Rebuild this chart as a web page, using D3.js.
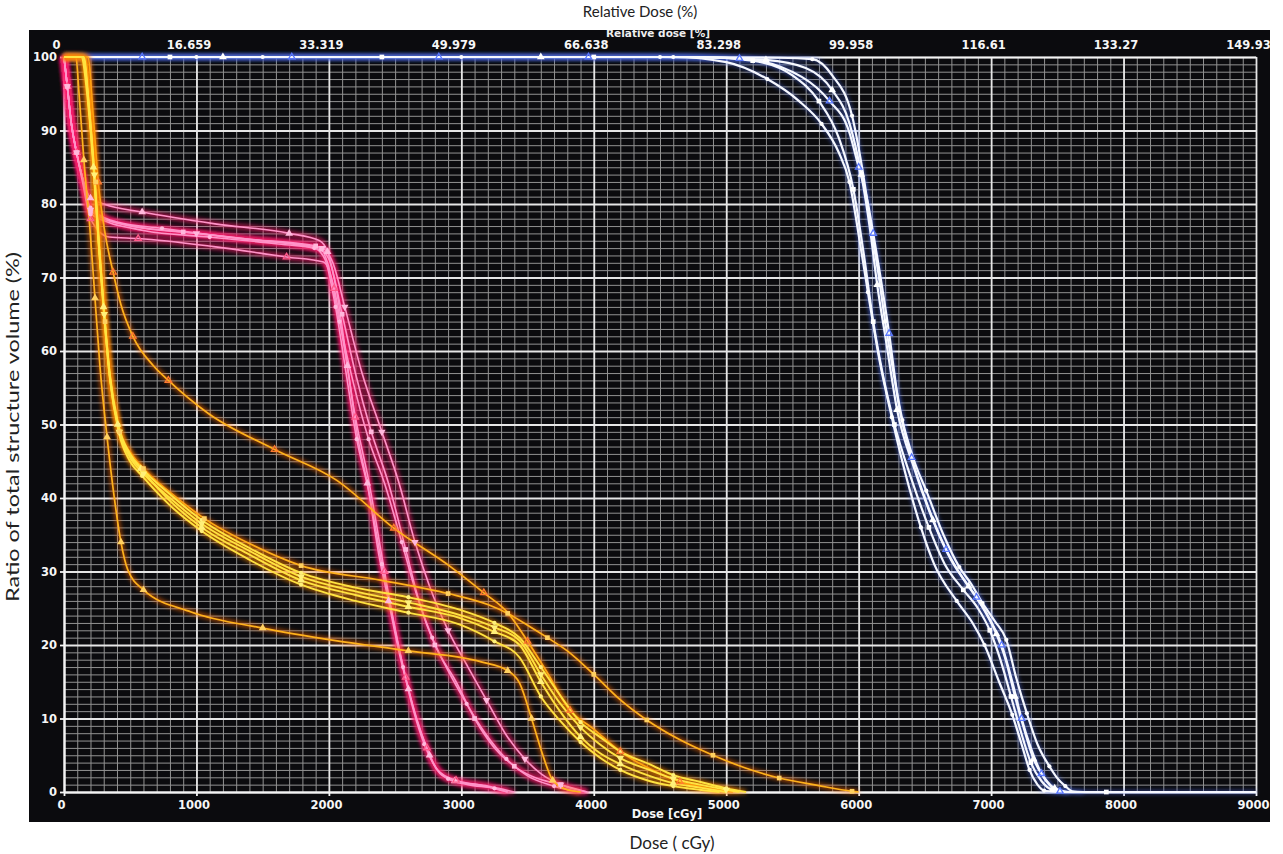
<!DOCTYPE html>
<html>
<head>
<meta charset="utf-8">
<script src="https://cdn.jsdelivr.net/npm/d3@7"></script>
<style>
body { margin: 0; background: #fff; }
svg { display: block; }
</style>
</head>
<body>
<svg id="chart" width="1283" height="854"></svg>
<script>
// tick values / labels
var doseTicks = [0, 1000, 2000, 3000, 4000, 5000, 6000, 7000, 8000, 9000];
var volTicks = [0, 10, 20, 30, 40, 50, 60, 70, 80, 90, 100];
var relDoseLabels = ["0", "16.659", "33.319", "49.979", "66.638", "83.298", "99.958", "116.61", "133.27", "149.93"];

// PTV curves (white) : [dose cGy, volume %]
var ptv1 = [[0,100],[1000,100],[2000,100],[3000,100],[4000,100],[4600,100],[5000,99.3],[5310,97],[5550,94],[5720,90.9],[5850,87],[5930,83],[6010,74.7],[6070,68],[6160,58.5],[6250,51],[6380,41.5],[6470,36],[6570,31],[6740,26],[6860,23],[6950,20],[7060,15],[7160,10.5],[7230,6.5],[7290,3],[7350,1],[7400,0.2],[7500,0]];
var ptv2 = [[0,100],[800,100],[1600,100],[2400,100],[3200,100],[4000,100],[4800,100],[5200,99.5],[5500,97.5],[5700,94],[5850,89],[5960,82],[6040,73],[6110,64],[6180,57],[6270,50],[6400,42.5],[6530,36],[6650,31],[6790,27.5],[6900,25],[6990,22],[7070,18],[7150,13],[7220,8.5],[7300,4],[7380,1.5],[7460,0.3],[7550,0],[7870,0],[8440,0],[9000,0]];
var ptv3 = [[0,100],[590,100],[1155,100],[1720,100],[2265,100],[2830,100],[3395,100],[3960,100],[4530,100],[5100,99.8],[5570,97.3],[5780,94],[5925,90],[6000,85],[6060,81],[6110,76],[6150,71.7],[6230,62.4],[6300,53],[6400,45.5],[6520,39],[6660,33],[6790,29],[6890,26.5],[6990,23.5],[7080,20],[7160,15],[7230,10],[7300,6],[7380,2.5],[7450,0.8],[7520,0.1],[7600,0]];
var ptv4 = [[0,100],[1200,100],[2400,100],[3600,100],[4700,100],[5300,99.6],[5600,98.5],[5800,95.5],[5930,91],[6020,84],[6090,76],[6140,69],[6210,61],[6290,52],[6420,44],[6560,37],[6700,31.5],[6830,28],[6940,25],[7040,21.5],[7110,18],[7180,13],[7250,8.5],[7320,4.5],[7400,2],[7480,0.5],[7580,0]];
var ptv5 = [[0,100],[1500,100],[3000,100],[4500,100],[5400,99.9],[5650,99.7],[5800,97.5],[5950,92],[6045,82.8],[6100,76],[6145,71],[6200,64],[6250,58.4],[6330,50.6],[6420,45],[6510,41],[6640,35],[6760,30.6],[6850,28.3],[6935,25.7],[7030,23.2],[7115,20.7],[7190,15.5],[7270,10.7],[7350,6.5],[7440,3.5],[7495,2],[7560,0.8],[7615,0.1],[7700,0]];

// OAR curves (pink)
var pink1 = [[0,100],[25,96],[55,91],[95,87],[140,83.5],[200,80.8],[300,80],[590,78.9],[1140,77.3],[1700,76],[1930,75],[1990,73.5],[2060,68],[2140,58],[2220,48],[2290,42],[2380,32],[2450,26],[2530,19],[2600,14],[2680,9],[2760,5],[2840,2.5],[2950,1.5],[3150,0.9],[3350,0]];
var pink2 = [[0,100],[25,96],[55,91],[95,87],[140,83.5],[200,79.5],[410,77.5],[740,76.7],[1270,75.4],[1890,74],[1970,72.5],[2050,66],[2130,57],[2210,48],[2300,41],[2400,31],[2480,24],[2560,17],[2640,11],[2720,6.5],[2800,3.5],[2900,1.8],[3050,1],[3250,0.5],[3350,0]];
var pink3 = [[0,100],[25,96],[55,91],[95,87],[140,83],[200,78],[340,75.5],[560,75.3],[1130,74.2],[1680,72.8],[1960,72.1],[2040,68.5],[2120,60],[2200,51],[2300,42.4],[2420,30],[2500,22],[2580,15.6],[2660,10],[2740,6],[2820,3],[2960,1.6],[3200,0.8],[3400,0]];
var pink4 = [[0,100],[25,96],[55,91],[95,87],[140,83.5],[200,79],[450,77.2],[900,76.2],[1400,75.2],[1900,74.3],[2000,72.5],[2100,65],[2200,57],[2320,49],[2450,42],[2580,33],[2680,26],[2800,20],[2960,15],[3100,10],[3250,6],[3400,3.5],[3550,2],[3750,1],[3950,0]];
var pink5 = [[0,100],[25,96],[55,91],[95,87],[140,83.5],[200,79.2],[500,77],[1000,76],[1500,75],[1950,74],[2030,72],[2120,66],[2250,57],[2400,49],[2530,42],[2650,34],[2760,28],[2900,22],[3050,17],[3190,12.5],[3330,8],[3480,4.5],[3600,2.5],[3750,1],[3950,0]];
var pink6 = [[0,100],[25,96],[55,91],[95,87],[140,83.5],[200,78.6],[600,76.4],[1100,75.5],[1600,74.6],[1940,73.8],[1990,72],[2080,64],[2180,56],[2300,48],[2420,42],[2550,34],[2660,27],[2780,21],[2900,16.5],[3040,12],[3180,8],[3340,4.5],[3500,2.2],[3700,0.8],[3900,0]];

// OAR curves (orange / yellow)
var orangeTri = [[0,100],[90,100],[113,95.2],[150,86],[196,76.6],[234,67.2],[272,57.8],[325,48.3],[380,40],[430,34],[480,30.3],[600,27.5],[960,24.5],[1500,22.3],[2050,20.6],[2600,19.2],[3150,17.7],[3350,16.5],[3440,14.8],[3530,10],[3610,5.3],[3690,1.6],[3800,0.3],[3900,0]];
var orangeA = [[0,100],[180,100],[220,92],[258,83],[310,76],[371,70.7],[430,66.3],[520,62],[675,58],[788,56],[1090,51.5],[1590,46.6],[2060,42.4],[2490,35.9],[2930,30.5],[3170,27.1],[3350,24.4],[3500,20.5],[3640,16.5],[3820,11.1],[3990,8.7],[4200,5.5],[4420,3.2],[4650,1.4],[4900,0.4],[5050,0]];
var orangeSq = [[0,100],[160,100],[200,93],[240,83],[275,73],[310,64],[355,55.5],[420,49],[510,46],[600,44],[820,40.5],[1060,37.2],[1400,33.8],[1790,30.8],[2400,28.8],[2900,27],[3200,25.5],[3350,24.3],[3500,22.7],[3650,21],[3800,19.2],[4000,16],[4190,12.7],[4400,9.8],[4640,7.2],[4900,5],[5140,3.3],[5400,1.9],[5690,0.9],[5950,0.1],[6000,0]];
var yellow1 = [[0,100],[140,100],[185,94],[225,85],[262,75],[300,66],[345,57],[410,50],[500,46],[590,44],[800,40.5],[1040,37],[1400,33.2],[1790,29.8],[2200,27.8],[2600,26.5],[2985,24.8],[3250,23],[3440,21],[3600,17],[3740,13.3],[3900,9.5],[4045,7.5],[4200,5.5],[4420,3.8],[4600,2.3],[4800,1.4],[5000,0.5],[5150,0]];
var yellow2 = [[0,100],[150,100],[190,93],[230,84],[266,74],[304,65],[350,56],[418,49],[505,45.3],[600,43.3],[800,40],[1040,36.5],[1400,32.8],[1790,29.3],[2200,27.3],[2600,25.8],[2985,24.1],[3250,22.4],[3440,20.6],[3600,16],[3740,12.2],[3900,8.8],[4045,6.5],[4200,4.6],[4420,3],[4600,1.8],[4800,1],[5000,0.3],[5100,0]];
var yellow3 = [[0,100],[130,100],[180,94],[222,85],[260,75],[298,66],[342,57],[405,50],[490,46],[580,44],[800,39.6],[1040,36],[1400,32.3],[1790,28.8],[2200,26.8],[2600,25.2],[2985,23.7],[3250,21.8],[3440,20],[3600,15],[3740,11.1],[3900,7.5],[4045,5.3],[4200,3.8],[4420,2.2],[4600,1.2],[4800,0.6],[5000,0]];
var yellow4 = [[0,100],[145,100],[188,93],[228,84],[264,74],[302,65],[348,56],[412,49],[498,45],[590,43],[800,39],[1040,35.5],[1400,31.6],[1790,28.2],[2200,26],[2600,24.4],[2985,22.8],[3250,20.5],[3440,18.3],[3600,13],[3740,9.8],[3900,6.8],[4045,4.7],[4200,3],[4420,1.5],[4600,0.8],[4800,0.3],[4950,0]];

var series = [
    { data: ptv1, group: 'ptv', marker: 'dot' },
    { data: ptv2, group: 'ptv', marker: 'sq' },
    { data: ptv4, group: 'ptv', marker: 'tri' },
    { data: ptv5, group: 'ptv', marker: 'dot' },
    { data: ptv3, group: 'ptv', marker: 'A' },
    { data: pink1, group: 'pink', marker: 'tri' },
    { data: pink2, group: 'pink', marker: 'dot' },
    { data: pink3, group: 'pink', marker: 'A' },
    { data: pink4, group: 'pink', marker: 'sq' },
    { data: pink5, group: 'pink', marker: 'down' },
    { data: pink6, group: 'pink', marker: 'dot' },
    { data: yellow1, group: 'yellow', marker: 'dot' },
    { data: yellow2, group: 'yellow', marker: 'down' },
    { data: yellow3, group: 'yellow', marker: 'tri' },
    { data: yellow4, group: 'yellow', marker: 'dot' },
    { data: orangeTri, group: 'orange', marker: 'tri' },
    { data: orangeA, group: 'orange', marker: 'A' },
    { data: orangeSq, group: 'orange', marker: 'sq' }
];

var styles = {
    ptv:    { core: '#f6f8ff', glow: '#4a68e0', w: 2.2, gw: 4, go: 0.5,  mk: '#ffffff', mA: '#5a78ff' },
    pink:   { core: '#ff93c8', glow: '#ff1a6c', w: 1.6, gw: 6, go: 0.6,  mk: '#ffb8dc', mA: '#ff5a8a' },
    yellow: { core: '#ffe340', glow: '#ff8a00', w: 1.9, gw: 5, go: 0.55, mk: '#fff07a', mA: '#ff9a20' },
    orange: { core: '#ffb21c', glow: '#ff6a00', w: 1.7, gw: 5, go: 0.55, mk: '#ffd060', mA: '#ff7a30' }
};

var svg = d3.select('#chart');
var x = d3.scaleLinear().domain([0, 9000]).range([64, 1256]);
var y = d3.scaleLinear().domain([0, 100]).range([792, 57]);
var plotH = y(0) - y(100), plotW = x(9000) - x(0);

var defs = svg.append('defs');
defs.append('filter').attr('id', 'blur').attr('x', '-20%').attr('y', '-20%').attr('width', '140%').attr('height', '140%')
    .append('feGaussianBlur').attr('stdDeviation', 2.2);
defs.append('clipPath').attr('id', 'panelClip')
    .append('rect').attr('x', 29).attr('y', 30).attr('width', 1241).attr('height', 792);

// outer titles
var titleFont = 'Lato, "Open Sans", sans-serif';
svg.append('text').attr('x', 640).attr('y', 17).attr('text-anchor', 'middle')
    .style('font-family', titleFont).style('font-size', '15px').style('fill', '#222')
    .text('Relative Dose (%)');
svg.append('text').attr('transform', 'translate(19,427) rotate(-90)').attr('text-anchor', 'middle')
    .attr('textLength', 350).attr('lengthAdjust', 'spacingAndGlyphs')
    .style('font-family', titleFont).style('font-size', '18px').style('fill', '#222')
    .text('Ratio of total structure volume (%)');
svg.append('text').attr('x', 672).attr('y', 849).attr('text-anchor', 'middle')
    .style('font-family', titleFont).style('font-size', '17px').style('fill', '#222')
    .text('Dose ( cGy)');

// black screen panel
svg.append('rect').attr('x', 29).attr('y', 30).attr('width', 1241).attr('height', 792).attr('fill', '#0b0b0e');

var panel = svg.append('g').attr('clip-path', 'url(#panelClip)');

// grid: minor then major
function styleGrid(g, color, width) {
    g.select('.domain').remove();
    g.selectAll('.tick line').attr('stroke', color).attr('stroke-width', width);
    g.selectAll('.tick text').remove();
}
panel.append('g').attr('transform', 'translate(0,' + y(0) + ')')
    .call(d3.axisBottom(x).tickValues(d3.range(0, 9001, 100)).tickSize(-plotH).tickFormat(''))
    .call(styleGrid, '#929292', 1);
panel.append('g').attr('transform', 'translate(' + x(0) + ',0)')
    .call(d3.axisLeft(y).tickValues(d3.range(0, 101, 1)).tickSize(-plotW).tickFormat(''))
    .call(styleGrid, '#929292', 1);
panel.append('g').attr('transform', 'translate(0,' + y(0) + ')')
    .call(d3.axisBottom(x).tickValues(doseTicks).tickSize(-plotH).tickFormat(''))
    .call(styleGrid, '#e6e6e6', 1.8);
panel.append('g').attr('transform', 'translate(' + x(0) + ',0)')
    .call(d3.axisLeft(y).tickValues(volTicks).tickSize(-plotW).tickFormat(''))
    .call(styleGrid, '#e6e6e6', 1.8);

// axes with labels
var labelFont = '"DejaVu Sans", Verdana, sans-serif';
function styleAxis(g) {
    g.select('.domain').attr('stroke', '#f4f4f4').attr('stroke-width', 2.2);
    g.selectAll('.tick line').attr('stroke', '#f4f4f4').attr('stroke-width', 1.8);
    g.selectAll('.tick text').attr('fill', '#f6f6f6')
        .style('font-family', labelFont).style('font-weight', 'bold').style('font-size', '11.5px');
}
panel.append('g').attr('transform', 'translate(0,' + y(0) + ')')
    .call(d3.axisBottom(x).tickValues(doseTicks).tickFormat(d3.format('d')).tickSize(4).tickPadding(5).tickSizeOuter(0))
    .call(styleAxis)
    .call(function (g) { g.selectAll('.tick text').attr('dx', -3); });
panel.append('g').attr('transform', 'translate(' + x(0) + ',0)')
    .call(d3.axisLeft(y).tickValues(volTicks).tickFormat(d3.format('d')).tickSize(4).tickPadding(3).tickSizeOuter(0))
    .call(styleAxis);
panel.append('g').attr('transform', 'translate(0,' + y(100) + ')')
    .call(d3.axisTop(x).tickValues(doseTicks).tickFormat(function (d, i) { return relDoseLabels[i]; }).tickSize(0).tickPadding(8))
    .call(styleAxis)
    .call(function (g) {
        g.select('.domain').attr('stroke-width', 1.6);
        g.selectAll('.tick text').attr('dx', -8);
    });

panel.append('text').attr('x', 658).attr('y', 37).attr('text-anchor', 'middle')
    .style('font-family', labelFont).style('font-weight', 'bold').style('font-size', '10.5px').style('fill', '#eee')
    .text('Relative dose [%]');
panel.append('text').attr('x', 667).attr('y', 818).attr('text-anchor', 'middle')
    .style('font-family', labelFont).style('font-weight', 'bold').style('font-size', '11.5px').style('fill', '#f6f6f6')
    .text('Dose [cGy]');

// curves
var line = d3.line()
    .x(function (d) { return x(d[0]); })
    .y(function (d) { return y(d[1]); })
    .curve(d3.curveMonotoneX);

var curves = panel.append('g');
var order = ['ptv', 'pink', 'orange', 'yellow'];
order.forEach(function (grp) {
    var st = styles[grp];
    var list = series.filter(function (s) { return s.group === grp; });
    curves.append('g').selectAll('path.glow').data(list).enter().append('path')
        .attr('class', 'glow')
        .attr('d', function (s) { return line(s.data); })
        .attr('fill', 'none').attr('stroke', st.glow).attr('stroke-width', st.gw)
        .attr('stroke-opacity', st.go).attr('filter', 'url(#blur)');
    curves.append('g').selectAll('path.core').data(list).enter().append('path')
        .attr('class', 'core')
        .attr('d', function (s) { return line(s.data); })
        .attr('fill', 'none').attr('stroke', st.core).attr('stroke-width', st.w);
});

// markers along curves
var shapes = {
    dot: d3.symbol().type(d3.symbolCircle).size(14),
    sq: d3.symbol().type(d3.symbolSquare).size(22),
    tri: d3.symbol().type(d3.symbolTriangle).size(26),
    down: d3.symbol().type(d3.symbolTriangle).size(24),
    A: d3.symbol().type(d3.symbolTriangle2).size(30)
};
var marks = curves.append('g');
series.forEach(function (s) {
    var st = styles[s.group];
    var pts = s.data.filter(function (d, i) {
        if (i === 0 || i === s.data.length - 1) return false;
        if (s.group !== 'ptv' && (d[1] >= 100 || d[1] <= 0)) return false;
        return i % 2 === 1;
    });
    marks.selectAll(null).data(pts).enter().append('path')
        .attr('d', shapes[s.marker])
        .attr('transform', function (d) {
            return 'translate(' + x(d[0]) + ',' + y(d[1]) + ')' + (s.marker === 'down' ? ' rotate(180)' : '');
        })
        .attr('fill', s.marker === 'A' ? 'none' : st.mk)
        .attr('stroke', s.marker === 'A' ? st.mA : 'none')
        .attr('stroke-width', 1.3);
});
</script>
</body>
</html>
